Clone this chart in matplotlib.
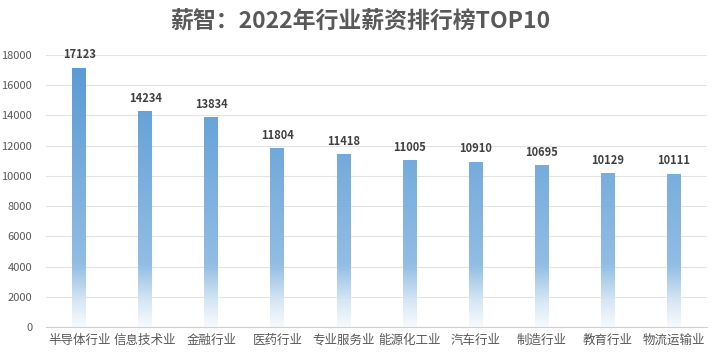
import numpy as np
import matplotlib
matplotlib.use("Agg")
import matplotlib.pyplot as plt
from matplotlib.colors import LinearSegmentedColormap

plt.rcParams['font.family'] = ['Noto Sans CJK SC', 'DejaVu Sans']

categories = ["半导体行业", "信息技术业", "金融行业", "医药行业", "专业服务业",
              "能源化工业", "汽车行业", "制造行业", "教育行业", "物流运输业"]
salaries = [17123, 14234, 13834, 11804, 11418, 11005, 10910, 10695, 10129, 10111]
title = "薪智：2022年行业薪资排行榜TOP10"

YMAX = 18000
BAR_W = 0.21

# gradient in data space: near white at 0, fading into blue
cmap = LinearSegmentedColormap.from_list(
    "fade", [(0.0, "#f7fafd"), (0.1, "#d6e6f5"), (0.24, "#92bde4"), (1.0, "#5b9bd5")])

fig = plt.figure(figsize=(7.2, 3.59), dpi=100)
ax = fig.add_axes([0.064, 0.089, 0.918, 0.758])

for i, v in enumerate(salaries):
    ys = np.linspace(0, v, 300)
    grad = cmap(np.clip(ys / 17123, 0, 1))[:, None, :]
    ax.imshow(grad, extent=[i - BAR_W / 2, i + BAR_W / 2, 0, v], origin="lower",
              aspect="auto", interpolation="bilinear", zorder=2)
    ax.text(i, v + 450, str(v), ha="center", va="bottom", fontsize=8,
            fontweight="bold", color="#404040", zorder=3)

ax.set_xlim(-0.5, len(categories) - 0.5)
ax.set_ylim(0, YMAX)
ax.set_yticks(np.arange(0, YMAX + 1, 2000))
ax.set_xticks(range(len(categories)))
ax.set_xticklabels(categories, fontsize=9, color="#595959")
ax.tick_params(axis="y", labelsize=8, labelcolor="#595959", length=0, pad=10)
ax.tick_params(axis="x", length=0, pad=5)
ax.grid(axis="y", color="#e3e3e3", linewidth=0.8, zorder=0)
ax.set_axisbelow(True)
for s in ["top", "right", "left"]:
    ax.spines[s].set_visible(False)
ax.spines["bottom"].set_color("#d0d0d0")

fig.text(0.5, 0.937, title, ha="center", va="center", fontsize=16.5,
         fontweight="bold", color="#595959")

fig.savefig("out.png", dpi=100)
